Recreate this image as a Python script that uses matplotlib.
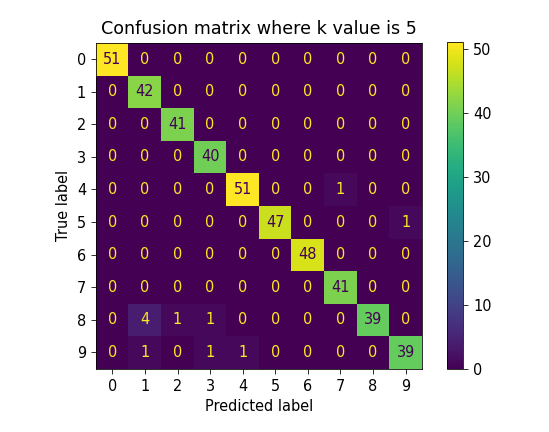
import numpy as np
import matplotlib
matplotlib.use("Agg")
import matplotlib.pyplot as plt

labels = [str(i) for i in range(10)]
cm = np.array([
    [51, 0, 0, 0, 0, 0, 0, 0, 0, 0],
    [0, 42, 0, 0, 0, 0, 0, 0, 0, 0],
    [0, 0, 41, 0, 0, 0, 0, 0, 0, 0],
    [0, 0, 0, 40, 0, 0, 0, 0, 0, 0],
    [0, 0, 0, 0, 51, 0, 0, 1, 0, 0],
    [0, 0, 0, 0, 0, 47, 0, 0, 0, 1],
    [0, 0, 0, 0, 0, 0, 48, 0, 0, 0],
    [0, 0, 0, 0, 0, 0, 0, 41, 0, 0],
    [0, 4, 1, 1, 0, 0, 0, 0, 39, 0],
    [0, 1, 0, 1, 1, 0, 0, 0, 0, 39],
])

# reference looks like a default figure scaled up by ~1.45
plt.rcParams["font.size"] = 14.5
plt.rcParams["xtick.major.size"] = 5
plt.rcParams["ytick.major.size"] = 5
plt.rcParams["xtick.major.pad"] = 5
plt.rcParams["ytick.major.pad"] = 5
plt.rcParams["axes.labelpad"] = 5.5

W, H = 549, 432
fig = plt.figure(figsize=(W / 72, H / 72), dpi=72)
ax = fig.add_axes([96 / W, 1 - 369 / H, 326 / W, 326.5 / H])
cax = fig.add_axes([447 / W, 1 - 369 / H, 16 / W, 326.5 / H])

cmap = plt.get_cmap("viridis")
im = ax.imshow(cm, interpolation="nearest", cmap=cmap)
thresh = (cm.max() + cm.min()) / 2.0
for i in range(cm.shape[0]):
    for j in range(cm.shape[1]):
        color = cmap(0) if cm[i, j] >= thresh else cmap(1.0)
        ax.text(j, i, f"{cm[i, j]}", ha="center", va="center", color=color, fontsize=14.5)

ax.set_xticks(range(10))
ax.set_xticklabels(labels)
ax.set_yticks(range(10))
ax.set_yticklabels(labels)
ax.set_xlabel("Predicted label")
ax.set_ylabel("True label")
ax.set_title("Confusion matrix where k value is 5", fontsize=17.5, pad=8.5)

fig.colorbar(im, cax=cax)

fig.savefig("out.png", dpi=72, facecolor="white")
